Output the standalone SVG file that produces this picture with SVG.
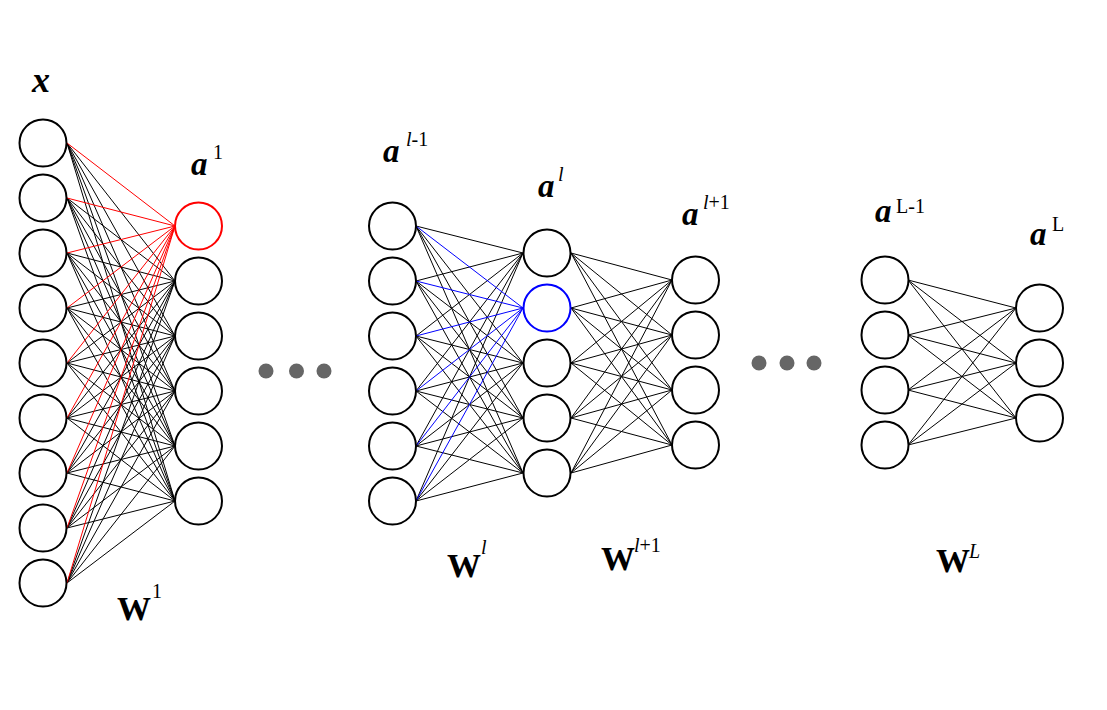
<svg xmlns="http://www.w3.org/2000/svg" width="1107" height="710" viewBox="0 0 1107 710">
<style>
.n{fill:#fff;stroke:#000;stroke-width:2}
.k{fill:none;stroke:#000;stroke-width:1}
.r{fill:none;stroke:#f00;stroke-width:1}
.b{fill:none;stroke:#00f;stroke-width:1}
.d{fill:#666}
.v{font-family:"Liberation Serif",serif;font-weight:bold;font-style:italic;font-size:33px}
.W{font-family:"Liberation Serif",serif;font-weight:bold;font-size:34px}
.s{font-family:"Liberation Serif",serif;font-size:20px}
.i{font-style:italic}
</style>
<rect width="1107" height="710" fill="#fff"/>
<g id="connectors">
<path class="k" d="M67 143L175 281M67 143L175 336M67 143L175 391M67 143L175 446M67 143L175 501
M67 198L175 281M67 198L175 336M67 198L175 391M67 198L175 446M67 198L175 501
M67 253L175 281M67 253L175 336M67 253L175 391M67 253L175 446M67 253L175 501
M67 308L175 281M67 308L175 336M67 308L175 391M67 308L175 446M67 308L175 501
M67 363L175 281M67 363L175 336M67 363L175 391M67 363L175 446M67 363L175 501
M67 418L175 281M67 418L175 336M67 418L175 391M67 418L175 446M67 418L175 501
M67 473L175 281M67 473L175 336M67 473L175 391M67 473L175 446M67 473L175 501
M67 528L175 281M67 528L175 336M67 528L175 391M67 528L175 446M67 528L175 501
M67 583L175 281M67 583L175 336M67 583L175 391M67 583L175 446M67 583L175 501"/>
<path class="r" d="M67 143L175 226M67 198L175 226M67 253L175 226M67 308L175 226M67 363L175 226M67 418L175 226M67 473L175 226M67 528L175 226M67 583L175 226"/>
<path class="k" d="M416 226L523 253M416 226L523 363M416 226L523 418M416 226L523 473
M416 281L523 253M416 281L523 363M416 281L523 418M416 281L523 473
M416 336L523 253M416 336L523 363M416 336L523 418M416 336L523 473
M416 391L523 253M416 391L523 363M416 391L523 418M416 391L523 473
M416 446L523 253M416 446L523 363M416 446L523 418M416 446L523 473
M416 501L523 253M416 501L523 363M416 501L523 418M416 501L523 473"/>
<path class="b" d="M416 226L523 308M416 281L523 308M416 336L523 308M416 391L523 308M416 446L523 308M416 501L523 308"/>
<path class="k" d="M571 253L672 280M571 253L672 335M571 253L672 390M571 253L672 445
M571 308L672 280M571 308L672 335M571 308L672 390M571 308L672 445
M571 363L672 280M571 363L672 335M571 363L672 390M571 363L672 445
M571 418L672 280M571 418L672 335M571 418L672 390M571 418L672 445
M571 473L672 280M571 473L672 335M571 473L672 390M571 473L672 445"/>
<path class="k" d="M908 280L1016 308M908 280L1016 363M908 280L1016 418
M908 335L1016 308M908 335L1016 363M908 335L1016 418
M908 390L1016 308M908 390L1016 363M908 390L1016 418
M908 445L1016 308M908 445L1016 363M908 445L1016 418"/>
</g>
<g id="layer-x">
<circle class="n" cx="43" cy="143" r="23.5"/>
<circle class="n" cx="43" cy="198" r="23.5"/>
<circle class="n" cx="43" cy="253" r="23.5"/>
<circle class="n" cx="43" cy="308" r="23.5"/>
<circle class="n" cx="43" cy="363" r="23.5"/>
<circle class="n" cx="43" cy="418" r="23.5"/>
<circle class="n" cx="43" cy="473" r="23.5"/>
<circle class="n" cx="43" cy="528" r="23.5"/>
<circle class="n" cx="43" cy="583" r="23.5"/>
<text class="v" x="32" y="92" style="font-size:36px">x</text>
</g>
<g id="layer-a1">
<circle class="n" cx="198.5" cy="226" r="23.5" style="stroke:#f00"/>
<circle class="n" cx="198.5" cy="281" r="23.5"/>
<circle class="n" cx="198.5" cy="336" r="23.5"/>
<circle class="n" cx="198.5" cy="391" r="23.5"/>
<circle class="n" cx="198.5" cy="446" r="23.5"/>
<circle class="n" cx="198.5" cy="501" r="23.5"/>
<text class="v" x="191" y="175">a</text>
<text class="s" x="213" y="159">1</text>
</g>
<g id="dots-1">
<circle class="d" cx="266" cy="371" r="7.5"/>
<circle class="d" cx="296.5" cy="371" r="7.5"/>
<circle class="d" cx="324" cy="371" r="7.5"/>
</g>
<g id="layer-al-1">
<circle class="n" cx="392.5" cy="226" r="23.5"/>
<circle class="n" cx="392.5" cy="281" r="23.5"/>
<circle class="n" cx="392.5" cy="336" r="23.5"/>
<circle class="n" cx="392.5" cy="391" r="23.5"/>
<circle class="n" cx="392.5" cy="446" r="23.5"/>
<circle class="n" cx="392.5" cy="501" r="23.5"/>
<text class="v" x="383" y="162">a</text>
<text class="s" x="406" y="146"><tspan class="i">l</tspan>-1</text>
</g>
<g id="layer-al">
<circle class="n" cx="547" cy="253" r="23.5"/>
<circle class="n" cx="547" cy="308" r="23.5" style="stroke:#00f"/>
<circle class="n" cx="547" cy="363" r="23.5"/>
<circle class="n" cx="547" cy="418" r="23.5"/>
<circle class="n" cx="547" cy="473" r="23.5"/>
<text class="v" x="538" y="197">a</text>
<text class="s i" x="558" y="181">l</text>
</g>
<g id="layer-al+1">
<circle class="n" cx="695.5" cy="280" r="23.5"/>
<circle class="n" cx="695.5" cy="335" r="23.5"/>
<circle class="n" cx="695.5" cy="390" r="23.5"/>
<circle class="n" cx="695.5" cy="445" r="23.5"/>
<text class="v" x="682" y="225">a</text>
<text class="s" x="703" y="209"><tspan class="i">l</tspan>+1</text>
</g>
<g id="dots-2">
<circle class="d" cx="759" cy="363" r="7.5"/>
<circle class="d" cx="787" cy="363" r="7.5"/>
<circle class="d" cx="814" cy="363" r="7.5"/>
</g>
<g id="layer-aL-1">
<circle class="n" cx="885" cy="280" r="23.5"/>
<circle class="n" cx="885" cy="335" r="23.5"/>
<circle class="n" cx="885" cy="390" r="23.5"/>
<circle class="n" cx="885" cy="445" r="23.5"/>
<text class="v" x="875" y="222">a</text>
<text class="s" x="896" y="213">L-1</text>
</g>
<g id="layer-aL">
<circle class="n" cx="1039.5" cy="308" r="23.5"/>
<circle class="n" cx="1039.5" cy="363" r="23.5"/>
<circle class="n" cx="1039.5" cy="418" r="23.5"/>
<text class="v" x="1030" y="245">a</text>
<text class="s" x="1052" y="231">L</text>
</g>
<g id="weights">
<text class="W" x="117" y="620">W</text>
<text class="s" x="152" y="598">1</text>
<text class="W" x="447" y="577">W</text>
<text class="s i" x="481" y="554">l</text>
<text class="W" x="601" y="570">W</text>
<text class="s" x="634" y="552"><tspan class="i">l</tspan>+1</text>
<text class="W" x="936" y="572">W</text>
<text class="s i" x="969" y="558">L</text>
</g>
</svg>
